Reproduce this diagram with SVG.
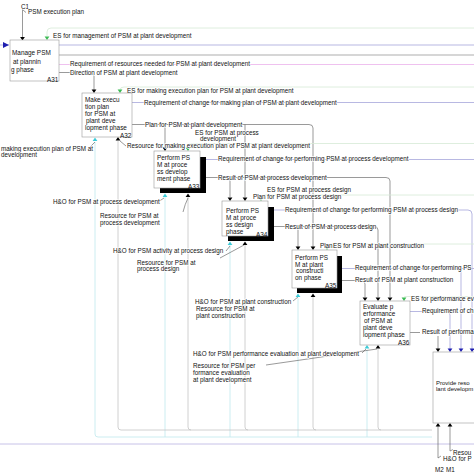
<svg xmlns="http://www.w3.org/2000/svg" width="474" height="474" viewBox="0 0 474 474">
<style>
.t{font-family:"Liberation Sans",Arial,sans-serif;font-size:6.3px;fill:#111;paint-order:stroke;stroke:#fff;stroke-width:1.4px;stroke-linejoin:round}
.bt{font-family:"Liberation Sans",Arial,sans-serif;font-size:6.4px;fill:#111}
.box{fill:#fff;stroke:#999;stroke-width:0.6}
.sh{fill:#000}
.ln{fill:none;stroke:#555;stroke-width:0.6}
.es{fill:none;stroke:#d6ead6;stroke-width:0.8}
.cy{fill:none;stroke:#bfe8ee;stroke-width:0.8}
.rs{fill:none;stroke:#c4c4c4;stroke-width:0.8}
.rq{fill:none;stroke:#9a9ad6;stroke-width:0.7}
.pk{fill:none;stroke:#e8a6e8;stroke-width:0.7}
.pu{fill:none;stroke:#b9b2e2;stroke-width:0.8}
.k{fill:#000}
.g{fill:#3dbb55}
.c{fill:#3ccbd8}
.b{fill:#1e1eb0}
</style>
<defs>
<path id="ad" d="M-2.4,-3.4 L2.4,-3.4 L0,0 Z"/>
<path id="au" d="M-2.4,3.4 L2.4,3.4 L0,0 Z"/>
</defs>
<rect width="474" height="474" fill="#fff"/>

<g id="connectors">
  <path class="ln" d="M22.5,9 V37 M23,10 L26,12.5"/>
  <path class="rq" d="M0,45 H9"/>
  <path class="es" d="M474,28 H51 Q47,28 47,32 V36"/>
  <path class="rq" d="M59,45 H474"/>
  <path class="ln" d="M59,55 H474" style="stroke:#777"/>
  <path class="pk" d="M59,64.5 H474"/>
  <path class="ln" d="M59,72.5 H90 Q94,72.5 94,76 V90"/>
  <path class="es" d="M474,87 H124 Q120,87 120,90 V90"/>
  <path class="rq" d="M132,102.5 H474"/>
  <path class="ln" d="M132,124.5 H309 Q313,124.5 313,128 V247 M165,124.5 V147 M245,124.5 V197"/>
  <path class="es" d="M474,143.5 H192 Q188,143.5 188,146"/>
  <path class="rq" d="M206,159.5 H474"/>
  <path class="ln" d="M206,177.5 H386 Q390,177.5 390,181 V297 M230,177.5 V197"/>
  <path class="es" d="M474,195 H265 Q261,195 261,197"/>
  <path class="rq" d="M274,210 H468 Q472,210 472,214 V349"/>
  <path class="ln" d="M274,226.5 H374 Q378,226.5 378,230 V297 M298,226.5 V247"/>
  <path class="es" d="M474,244 H331 Q327,244 327,247"/>
  <path class="rq" d="M342,268.5 H474 M461,272 V349"/>
  <path class="ln" d="M342,280.5 H361 Q365,280.5 365,284 V297"/>
  <path class="es" d="M474,296.5 H408 Q404,296.5 404,297"/>
  <path class="rq" d="M410,311.5 H446 Q450,311.5 450,315 V349"/>
  <path class="ln" d="M410,332.5 H420 M438,336 V349"/>
  <path class="cy" d="M95,142 V434 Q95,437 98,437 H432 M165,197 V437 M230,245 V437 M298,298 V437 M367,350 V437"/>
  <path class="rs" d="M118,141 V427 Q118,430 121,430 H432 M188,197 V427 Q188,430 191,430 M245,245 V427 Q245,430 248,430 M313,297 V427 Q313,430 316,430 M378,349 V427 Q378,430 381,430"/>
  <path class="pu" d="M0,444 H474"/>
  <path class="ln" d="M438,426 V458 L441,456 M450,426 V451 L453,449.5"/>
  <path class="ln" d="M90,147 L95,142 M158,202 L164,198 M183,212 Q185,204 188,198 M120,141 L126,146 M226,251 L230,246 M220,258 L244,245 M293,301 L298,297 M362,353 L366,349 M266,365 L377,349"/>
  <use href="#ad" class="k" x="22.5" y="40.5"/>
  <use href="#ad" class="k" x="94" y="93"/>
  <use href="#ad" class="k" x="165" y="151"/>
  <use href="#ad" class="k" x="230" y="201"/>
  <use href="#ad" class="k" x="245" y="201"/>
  <use href="#ad" class="k" x="298" y="250"/>
  <use href="#ad" class="k" x="313" y="250"/>
  <use href="#ad" class="k" x="365" y="301"/>
  <use href="#ad" class="k" x="378" y="301"/>
  <use href="#ad" class="k" x="390" y="301"/>
  <use href="#ad" class="k" x="438" y="352"/>
  <use href="#ad" class="b" x="450" y="352"/>
  <use href="#ad" class="b" x="461" y="352"/>
  <use href="#ad" class="b" x="472" y="352"/>
  <use href="#ad" class="g" x="47" y="40"/>
  <use href="#ad" class="g" x="120" y="93"/>
  <use href="#ad" class="g" x="188" y="151"/>
  <use href="#ad" class="g" x="261" y="201"/>
  <use href="#ad" class="g" x="327" y="250"/>
  <use href="#ad" class="g" x="404" y="301"/>
  <use href="#au" class="k" x="118" y="137"/>
  <use href="#au" class="k" x="188" y="193.5"/>
  <use href="#au" class="k" x="245" y="241.5"/>
  <use href="#au" class="k" x="313" y="293.5"/>
  <use href="#au" class="k" x="378" y="345"/>
  <use href="#au" class="k" x="438" y="423"/>
  <use href="#au" class="k" x="450" y="423"/>
  <use href="#au" class="c" x="95" y="137.5"/>
  <use href="#au" class="c" x="165" y="193.5"/>
  <use href="#au" class="c" x="230" y="241.5"/>
  <use href="#au" class="c" x="298" y="293.5"/>
  <use href="#au" class="c" x="367" y="345"/>
  <path class="b" d="M3,42 L9,45 L3,48 Z"/>
</g>

<g id="labels">
  <text class="t" x="21" y="8.5">C1</text>
  <text class="t" x="28" y="14">PSM execution plan</text>
  <text class="t" x="53" y="37.5">ES for management of PSM at plant development</text>
  <text class="t" x="70" y="65.5">Requirement of resources needed for PSM at plant development</text>
  <text class="t" x="70" y="74.5">Direction of PSM at plant development</text>
  <text class="t" x="127" y="93">ES for making execution plan for PSM at plant development</text>
  <text class="t" x="144" y="104.5">Requirement of change for making plan of PSM at plant development</text>
  <text class="t" x="145" y="126.5">Plan for PSM at plant development</text>
  <text class="t" x="195" y="135">ES for PSM at process</text>
  <text class="t" x="200" y="141">development</text>
  <text class="t" x="127" y="148">Resource for making execution plan of PSM at plant development</text>
  <text class="t" x="1" y="151">making execution plan of PSM at</text>
  <text class="t" x="1" y="157">development</text>
  <text class="t" x="218" y="161">Requirement of change for performing PSM at process development</text>
  <text class="t" x="218" y="179.5">Result of PSM at process development</text>
  <text class="t" x="53" y="204">H&amp;O for PSM at process development</text>
  <text class="t" x="100" y="218">Resource for PSM at</text>
  <text class="t" x="100" y="225">process development</text>
  <text class="t" x="267" y="192">ES for PSM at process design</text>
  <text class="t" x="253" y="198.5">Plan for PSM  at process design</text>
  <text class="t" x="285" y="211.5">Requirement of change for performing PSM at process design</text>
  <text class="t" x="285" y="228.5">Result of PSM at process design</text>
  <text class="t" x="113" y="253">H&amp;O for PSM activity at process design</text>
  <text class="t" x="137" y="264.5">Resource for PSM at</text>
  <text class="t" x="137" y="271">process design</text>
  <text class="t" x="320" y="248">Plan</text>
  <text class="t" x="333" y="248">ES for PSM at plant construction</text>
  <text class="t" x="355" y="270">Requirement of change for performing PS</text>
  <text class="t" x="355" y="282">Result of PSM at plant construction</text>
  <text class="t" x="195" y="304">H&amp;O for PSM at plant construction</text>
  <text class="t" x="196" y="311">Resource for PSM at</text>
  <text class="t" x="196" y="318">plant construction</text>
  <text class="t" x="411" y="301">ES for performance ev</text>
  <text class="t" x="422" y="313">Requirement of ch</text>
  <text class="t" x="422" y="334">Result of performa</text>
  <text class="t" x="193" y="356">H&amp;O for PSM performance evaluation at plant development</text>
  <text class="t" x="193" y="368">Resource for PSM per</text>
  <text class="t" x="193" y="375">formance evaluation</text>
  <text class="t" x="193" y="382">at plant development</text>
  <text class="t" x="453" y="455">Resou</text>
  <text class="t" x="443" y="461">H&amp;O for P</text>
  <text class="t" x="435" y="472">M2</text>
  <text class="t" x="446" y="472">M1</text>
</g>

<g id="A31">
  <rect class="box" x="10" y="40" width="49" height="41"/>
  <text class="bt" x="12" y="55">Manage PSM</text>
  <text class="bt" x="13" y="63.5"> at plannin</text>
  <text class="bt" x="11" y="71.5">g phase</text>
  <text class="bt" x="47" y="82">A31</text>
</g>
<g id="A32">
  <rect class="box" x="82" y="93" width="50" height="44"/>
  <text class="bt" x="85" y="101.5">Make execu</text>
  <text class="bt" x="85" y="108.5">tion plan</text>
  <text class="bt" x="85" y="115.5">for PSM at</text>
  <text class="bt" x="86" y="122.5">plant deve</text>
  <text class="bt" x="85" y="129.5">lopment phase</text>
  <text class="bt" x="120" y="137.5">A32</text>
</g>
<g id="A33">
  <path class="sh" d="M200,157 H206 V193 H160 V188 H200 Z"/>
  <rect class="box" x="154" y="151" width="46" height="37"/>
  <text class="bt" x="157" y="159.5">Perform PS</text>
  <text class="bt" x="157" y="166.5">M at proce</text>
  <text class="bt" x="157" y="173.5">ss develop</text>
  <text class="bt" x="157" y="180.5">ment phase</text>
  <text class="bt" x="188" y="188.5">A33</text>
</g>
<g id="A34">
  <path class="sh" d="M268,207 H274 V241 H228 V236 H268 Z"/>
  <rect class="box" x="222" y="201" width="46" height="35"/>
  <text class="bt" x="226" y="213">Perform PS</text>
  <text class="bt" x="226" y="220">M at proce</text>
  <text class="bt" x="226" y="227">ss design</text>
  <text class="bt" x="226" y="234">phase</text>
  <text class="bt" x="256" y="237">A34</text>
</g>
<g id="A35">
  <path class="sh" d="M337,256 H342 V293 H297 V288 H337 Z"/>
  <rect class="box" x="292" y="250" width="45" height="38"/>
  <text class="bt" x="295" y="260">Perform PS</text>
  <text class="bt" x="295" y="266.5">M at plant</text>
  <text class="bt" x="296" y="273">constructi</text>
  <text class="bt" x="295" y="280">on phase</text>
  <text class="bt" x="325" y="287.5">A35</text>
</g>
<g id="A36">
  <rect class="box" x="360" y="301" width="50" height="44"/>
  <text class="bt" x="363" y="309">Evaluate p</text>
  <text class="bt" x="363" y="316">erformance</text>
  <text class="bt" x="364" y="323">of PSM at</text>
  <text class="bt" x="363" y="330">plant deve</text>
  <text class="bt" x="363" y="337">lopment phase</text>
  <text class="bt" x="398" y="345">A36</text>
</g>
<g id="A37">
  <rect class="box" x="433" y="352" width="60" height="71"/>
  <text class="bt" x="436" y="385" style="font-size:6px">Provide reso</text>
  <text class="bt" x="436" y="391" style="font-size:6px">lant developm</text>
</g>
</svg>
